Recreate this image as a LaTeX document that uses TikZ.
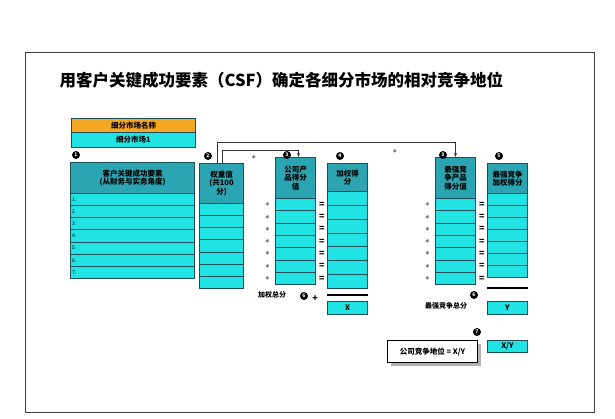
\documentclass[tikz,border=0pt]{standalone}
\usepackage{fontspec}
\setmainfont{Noto Sans CJK SC}
\usetikzlibrary{arrows.meta, positioning, shadows}
\definecolor{cellfill}{HTML}{22E3E3}
\definecolor{hdrfill}{HTML}{2CA5B2}
\definecolor{edgecol}{HTML}{1B4F5C}
\definecolor{namefill}{HTML}{F5A623}
\tikzset{
  box/.style={rectangle, draw=edgecol, line width=1pt, anchor=north west, inner sep=1pt, align=center, font=\fontsize{7.5}{8.5}\selectfont\bfseries},
  hdr/.style={box, fill=hdrfill},
  cell/.style={box, fill=cellfill},
  stepdot/.style={circle, fill=black, text=white, inner sep=0pt, minimum size=8pt, font=\fontsize{5}{5}\selectfont\bfseries},
  sym/.style={inner sep=0pt, font=\fontsize{9}{9}\selectfont\bfseries},
  lab/.style={inner sep=0pt, font=\fontsize{7}{8}\selectfont\bfseries},
  num/.style={inner sep=2pt, font=\fontsize{5}{5}\selectfont},
  link/.style={-{Stealth[length=4pt]}, line width=0.9pt, draw=black!80},
  sumline/.style={line width=2pt, draw=black},
}
\begin{document}
\begin{tikzpicture}[x=1pt, y=-1pt]
  \useasboundingbox (0,0) rectangle (615,418);
  \draw[line width=0.8pt, draw=black!75] (25,52) rectangle (594,412);
  \node[anchor=west, font=\fontsize{16.5}{18}\selectfont\bfseries] (title) at (56,80) {用客户关键成功要素（CSF）确定各细分市场的相对竞争地位};
  % segment name
  \node[box, fill=namefill, minimum width=124pt, minimum height=14pt] (seg) at (71,118) {细分市场名称};
  \node[cell, minimum width=124pt, minimum height=15pt] (seg1) at (71,132) {细分市场1};
  % column heads
  \node[hdr, minimum width=124pt, minimum height=31pt] (h1) at (70,162) {客户关键成功要素\\(从财务与实务角度)};
  \node[hdr, minimum width=44pt, minimum height=40pt] (h2) at (199,163) {权重值\\(共100\\分)};
  \node[hdr, minimum width=40pt, minimum height=41pt] (h3) at (275,157) {公司产\\品得分\\值};
  \node[hdr, minimum width=40pt, minimum height=28pt] (h4) at (327,163) {加权得\\分};
  \node[hdr, minimum width=40pt, minimum height=41pt] (h5) at (435,157) {最强竞\\争产品\\得分值};
  \node[hdr, minimum width=40pt, minimum height=30pt] (h6) at (487,163) {最强竞争\\加权得分};
  % rows
  \foreach \c/\x/\w/\y/\h in {c1/70/124/193/12.14, c2/199/44/203/12.14, c3/275/40/198/12.3,
                              c4/327/40/191/13.86, c5/435/40/198/12.3, c6/487/40/193/12}
    \foreach \i in {1,...,7}
      \node[cell, minimum width=\w pt, minimum height=\h pt] (\c r\i) at (\x,{\y+(\i-1)*\h}) {};
  \foreach \i in {1,...,7}
    \node[num, anchor=west] at (c1r\i.west) {\i.};
  \foreach \c in {c3,c5}
    \foreach \i in {1,...,7} {
      \node[sym, left=5pt of \c r\i] {$\ast$};
      \node[sym, right=3pt of \c r\i] {=};
    }
  \node[sym] (st1) at (254,157) {$\ast$};
  \node[sym] (st2) at (395,151) {$\ast$};
  % step markers
  \node[stepdot] (m1) at (76,155) {1};
  \node[stepdot] (m2) at (208,156) {2};
  \node[stepdot] (m3) at (287,155) {3};
  \node[stepdot] (m4) at (340,156) {4};
  \node[stepdot] (m5) at (443,155) {3};
  \node[stepdot] (m6) at (499,156) {5};
  % links
  \draw[link] ([xshift=-4pt]h2.north) -- ++(0,-21) -| (h5.north);
  \draw[link] ([xshift=1pt]h2.north) -- ++(0,-13) -| ([xshift=3pt]h3.north);
  % totals
  \draw[sumline] ([yshift=-6pt]c4r7.south west) -- ([yshift=-6pt]c4r7.south east);
  \draw[sumline] ([yshift=-10pt]c6r7.south west) -- ([yshift=-10pt]c6r7.south east);
  \node[cell, minimum width=40pt, minimum height=13pt] (totx) at (327,301) {X};
  \node[cell, minimum width=40pt, minimum height=13pt] (toty) at (487,301) {Y};
  \node[lab] (lx) at (272,295) {加权总分};
  \node[stepdot] (m7) at (304,296) {6};
  \node[sym] (plus) at (315,299) {+};
  \node[lab] (ly) at (446,306) {最强竞争总分};
  \node[stepdot] (m8) at (474,295) {6};
  \node[stepdot] (m9) at (477,332) {7};
  \node[box, fill=white, draw=black, line width=1.2pt, minimum width=90pt, minimum height=22pt,
        drop shadow={shadow xshift=3pt, shadow yshift=-3pt, fill=black!30, opacity=1}] (pos) at (387,340) {公司竞争地位 = X/Y};
  \node[cell, minimum width=40pt, minimum height=12pt] (ratio) at (487,340) {X/Y};
\end{tikzpicture}
\end{document}
